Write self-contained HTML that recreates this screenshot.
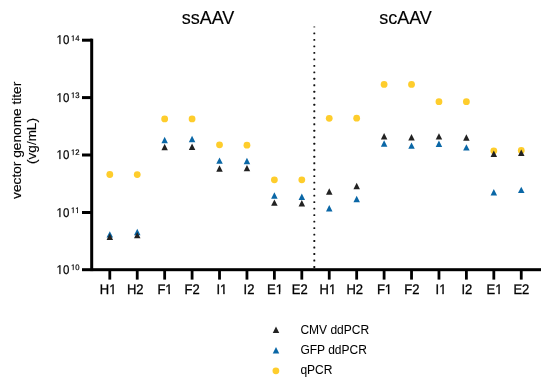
<!DOCTYPE html>
<html><head><meta charset="utf-8"><style>
html,body{margin:0;padding:0;background:#fff;width:550px;height:383px;overflow:hidden}
svg{position:absolute;left:0;top:0;display:block;will-change:transform}
text{font-family:"Liberation Sans",sans-serif;fill:#000;stroke:#000;stroke-width:0.15px}
.gp{text-rendering:geometricPrecision}
</style></head><body>
<svg width="550" height="383" viewBox="0 0 550 383">

<rect x="90.2" y="38.7" width="3" height="232.4" fill="#000"/>
<rect x="82" y="268.2" width="459" height="3" fill="#000"/>
<rect x="82" y="38.70" width="10" height="3" fill="#000"/>
<rect x="82" y="96.10" width="10" height="3" fill="#000"/>
<rect x="82" y="153.50" width="10" height="3" fill="#000"/>
<rect x="82" y="211.00" width="10" height="3" fill="#000"/>
<rect x="108.40" y="270" width="2.8" height="9.6" fill="#000"/>
<rect x="135.83" y="270" width="2.8" height="9.6" fill="#000"/>
<rect x="163.26" y="270" width="2.8" height="9.6" fill="#000"/>
<rect x="190.69" y="270" width="2.8" height="9.6" fill="#000"/>
<rect x="218.12" y="270" width="2.8" height="9.6" fill="#000"/>
<rect x="245.55" y="270" width="2.8" height="9.6" fill="#000"/>
<rect x="272.98" y="270" width="2.8" height="9.6" fill="#000"/>
<rect x="300.41" y="270" width="2.8" height="9.6" fill="#000"/>
<rect x="327.84" y="270" width="2.8" height="9.6" fill="#000"/>
<rect x="355.27" y="270" width="2.8" height="9.6" fill="#000"/>
<rect x="382.70" y="270" width="2.8" height="9.6" fill="#000"/>
<rect x="410.13" y="270" width="2.8" height="9.6" fill="#000"/>
<rect x="437.56" y="270" width="2.8" height="9.6" fill="#000"/>
<rect x="464.99" y="270" width="2.8" height="9.6" fill="#000"/>
<rect x="492.42" y="270" width="2.8" height="9.6" fill="#000"/>
<rect x="519.85" y="270" width="2.8" height="9.6" fill="#000"/>
<g fill="#111"><rect x="313.35" y="25.95" width="1.9" height="1.9" rx="0.5" fill-opacity="0.5"/><rect x="313.35" y="32.44" width="1.9" height="1.9" rx="0.5"/><rect x="313.35" y="38.93" width="1.9" height="1.9" rx="0.5"/><rect x="313.35" y="45.42" width="1.9" height="1.9" rx="0.5"/><rect x="313.35" y="51.91" width="1.9" height="1.9" rx="0.5"/><rect x="313.35" y="58.40" width="1.9" height="1.9" rx="0.5"/><rect x="313.35" y="64.89" width="1.9" height="1.9" rx="0.5"/><rect x="313.35" y="71.38" width="1.9" height="1.9" rx="0.5"/><rect x="313.35" y="77.87" width="1.9" height="1.9" rx="0.5"/><rect x="313.35" y="84.36" width="1.9" height="1.9" rx="0.5"/><rect x="313.35" y="90.85" width="1.9" height="1.9" rx="0.5"/><rect x="313.35" y="97.34" width="1.9" height="1.9" rx="0.5"/><rect x="313.35" y="103.83" width="1.9" height="1.9" rx="0.5"/><rect x="313.35" y="110.32" width="1.9" height="1.9" rx="0.5"/><rect x="313.35" y="116.81" width="1.9" height="1.9" rx="0.5"/><rect x="313.35" y="123.30" width="1.9" height="1.9" rx="0.5"/><rect x="313.35" y="129.79" width="1.9" height="1.9" rx="0.5"/><rect x="313.35" y="136.28" width="1.9" height="1.9" rx="0.5"/><rect x="313.35" y="142.77" width="1.9" height="1.9" rx="0.5"/><rect x="313.35" y="149.26" width="1.9" height="1.9" rx="0.5"/><rect x="313.35" y="155.75" width="1.9" height="1.9" rx="0.5"/><rect x="313.35" y="162.24" width="1.9" height="1.9" rx="0.5"/><rect x="313.35" y="168.73" width="1.9" height="1.9" rx="0.5"/><rect x="313.35" y="175.22" width="1.9" height="1.9" rx="0.5"/><rect x="313.35" y="181.71" width="1.9" height="1.9" rx="0.5"/><rect x="313.35" y="188.20" width="1.9" height="1.9" rx="0.5"/><rect x="313.35" y="194.69" width="1.9" height="1.9" rx="0.5"/><rect x="313.35" y="201.18" width="1.9" height="1.9" rx="0.5"/><rect x="313.35" y="207.67" width="1.9" height="1.9" rx="0.5"/><rect x="313.35" y="214.16" width="1.9" height="1.9" rx="0.5"/><rect x="313.35" y="220.65" width="1.9" height="1.9" rx="0.5"/><rect x="313.35" y="227.14" width="1.9" height="1.9" rx="0.5"/><rect x="313.35" y="233.63" width="1.9" height="1.9" rx="0.5"/><rect x="313.35" y="240.12" width="1.9" height="1.9" rx="0.5"/><rect x="313.35" y="246.61" width="1.9" height="1.9" rx="0.5"/><rect x="313.35" y="253.10" width="1.9" height="1.9" rx="0.5"/><rect x="313.35" y="259.59" width="1.9" height="1.9" rx="0.5"/><rect x="313.35" y="266.08" width="1.9" height="1.9" rx="0.5"/></g>
<circle cx="109.80" cy="174.5" r="3.4" fill="#FECD2C"/>
<circle cx="137.23" cy="174.6" r="3.4" fill="#FECD2C"/>
<circle cx="164.66" cy="118.9" r="3.4" fill="#FECD2C"/>
<circle cx="192.09" cy="118.9" r="3.4" fill="#FECD2C"/>
<circle cx="219.52" cy="144.8" r="3.4" fill="#FECD2C"/>
<circle cx="246.95" cy="145.2" r="3.4" fill="#FECD2C"/>
<circle cx="274.38" cy="179.8" r="3.4" fill="#FECD2C"/>
<circle cx="301.81" cy="179.8" r="3.4" fill="#FECD2C"/>
<circle cx="329.24" cy="118.3" r="3.4" fill="#FECD2C"/>
<circle cx="356.67" cy="118.2" r="3.4" fill="#FECD2C"/>
<circle cx="384.10" cy="84.4" r="3.4" fill="#FECD2C"/>
<circle cx="411.53" cy="84.4" r="3.4" fill="#FECD2C"/>
<circle cx="438.96" cy="101.7" r="3.4" fill="#FECD2C"/>
<circle cx="466.39" cy="101.7" r="3.4" fill="#FECD2C"/>
<circle cx="493.82" cy="150.8" r="3.4" fill="#FECD2C"/>
<circle cx="521.25" cy="150.5" r="3.4" fill="#FECD2C"/>
<path d="M106.55 237.60L109.80 231.20L113.05 237.60Z" fill="#0A67A6"/>
<path d="M133.98 235.20L137.23 228.80L140.48 235.20Z" fill="#0A67A6"/>
<path d="M161.41 143.20L164.66 136.80L167.91 143.20Z" fill="#0A67A6"/>
<path d="M188.84 142.20L192.09 135.80L195.34 142.20Z" fill="#0A67A6"/>
<path d="M216.27 163.80L219.52 157.40L222.77 163.80Z" fill="#0A67A6"/>
<path d="M243.70 164.20L246.95 157.80L250.20 164.20Z" fill="#0A67A6"/>
<path d="M271.13 198.70L274.38 192.30L277.63 198.70Z" fill="#0A67A6"/>
<path d="M298.56 200.00L301.81 193.60L305.06 200.00Z" fill="#0A67A6"/>
<path d="M325.99 211.40L329.24 205.00L332.49 211.40Z" fill="#0A67A6"/>
<path d="M353.42 202.20L356.67 195.80L359.92 202.20Z" fill="#0A67A6"/>
<path d="M380.85 146.70L384.10 140.30L387.35 146.70Z" fill="#0A67A6"/>
<path d="M408.28 148.80L411.53 142.40L414.78 148.80Z" fill="#0A67A6"/>
<path d="M435.71 146.90L438.96 140.50L442.21 146.90Z" fill="#0A67A6"/>
<path d="M463.14 150.60L466.39 144.20L469.64 150.60Z" fill="#0A67A6"/>
<path d="M490.57 195.50L493.82 189.10L497.07 195.50Z" fill="#0A67A6"/>
<path d="M518.00 193.10L521.25 186.70L524.50 193.10Z" fill="#0A67A6"/>
<path d="M106.55 240.00L109.80 233.60L113.05 240.00Z" fill="#222222"/>
<path d="M133.98 238.30L137.23 231.90L140.48 238.30Z" fill="#222222"/>
<path d="M161.41 150.20L164.66 143.80L167.91 150.20Z" fill="#222222"/>
<path d="M188.84 150.00L192.09 143.60L195.34 150.00Z" fill="#222222"/>
<path d="M216.27 171.70L219.52 165.30L222.77 171.70Z" fill="#222222"/>
<path d="M243.70 171.30L246.95 164.90L250.20 171.30Z" fill="#222222"/>
<path d="M271.13 205.80L274.38 199.40L277.63 205.80Z" fill="#222222"/>
<path d="M298.56 206.50L301.81 200.10L305.06 206.50Z" fill="#222222"/>
<path d="M325.99 194.70L329.24 188.30L332.49 194.70Z" fill="#222222"/>
<path d="M353.42 189.20L356.67 182.80L359.92 189.20Z" fill="#222222"/>
<path d="M380.85 139.50L384.10 133.10L387.35 139.50Z" fill="#222222"/>
<path d="M408.28 140.50L411.53 134.10L414.78 140.50Z" fill="#222222"/>
<path d="M435.71 139.60L438.96 133.20L442.21 139.60Z" fill="#222222"/>
<path d="M463.14 140.70L466.39 134.30L469.64 140.70Z" fill="#222222"/>
<path d="M490.57 157.00L493.82 150.60L497.07 157.00Z" fill="#222222"/>
<path d="M518.00 156.00L521.25 149.60L524.50 156.00Z" fill="#222222"/>
<path d="M272.75 333.00L276.00 326.60L279.25 333.00Z" fill="#222222"/>
<path d="M272.75 353.50L276.00 347.10L279.25 353.50Z" fill="#0A67A6"/>
<circle cx="275.9" cy="370.8" r="3.4" fill="#FECD2C"/>
<text x="208" y="23.6" font-size="18" text-anchor="middle">ssAAV</text>
<text x="405.5" y="23.6" font-size="18" text-anchor="middle">scAAV</text>
<text class="gp" transform="translate(99.814,294.00) scale(1,1.07)" font-size="13" style="stroke-width:0.3px">H</text><text class="gp" transform="translate(109.202,294.00) scale(1,1.07)" font-size="13" style="stroke-width:0.3px">1</text>
<text class="gp" transform="translate(126.935,294.00) scale(1,1.07)" font-size="13" style="stroke-width:0.3px">H</text><text class="gp" transform="translate(136.323,294.00) scale(1,1.07)" font-size="13" style="stroke-width:0.3px">2</text>
<text class="gp" transform="translate(157.387,294.00) scale(1,1.07)" font-size="13" style="stroke-width:0.3px">F</text><text class="gp" transform="translate(165.328,294.00) scale(1,1.07)" font-size="13" style="stroke-width:0.3px">1</text>
<text class="gp" transform="translate(184.508,294.00) scale(1,1.07)" font-size="13" style="stroke-width:0.3px">F</text><text class="gp" transform="translate(192.449,294.00) scale(1,1.07)" font-size="13" style="stroke-width:0.3px">2</text>
<text class="gp" transform="translate(216.485,294.00) scale(1,1.07)" font-size="13" style="stroke-width:0.3px">I</text><text class="gp" transform="translate(220.097,294.00) scale(1,1.07)" font-size="13" style="stroke-width:0.3px">1</text>
<text class="gp" transform="translate(243.606,294.00) scale(1,1.07)" font-size="13" style="stroke-width:0.3px">I</text><text class="gp" transform="translate(247.218,294.00) scale(1,1.07)" font-size="13" style="stroke-width:0.3px">2</text>
<text class="gp" transform="translate(267.022,294.00) scale(1,1.07)" font-size="13" style="stroke-width:0.3px">E</text><text class="gp" transform="translate(275.693,294.00) scale(1,1.07)" font-size="13" style="stroke-width:0.3px">1</text>
<text class="gp" transform="translate(291.843,294.00) scale(1,1.07)" font-size="13" style="stroke-width:0.3px">E</text><text class="gp" transform="translate(300.514,294.00) scale(1,1.07)" font-size="13" style="stroke-width:0.3px">2</text>
<text class="gp" transform="translate(319.564,294.00) scale(1,1.07)" font-size="13" style="stroke-width:0.3px">H</text><text class="gp" transform="translate(328.952,294.00) scale(1,1.07)" font-size="13" style="stroke-width:0.3px">1</text>
<text class="gp" transform="translate(346.485,294.00) scale(1,1.07)" font-size="13" style="stroke-width:0.3px">H</text><text class="gp" transform="translate(355.873,294.00) scale(1,1.07)" font-size="13" style="stroke-width:0.3px">2</text>
<text class="gp" transform="translate(376.887,294.00) scale(1,1.07)" font-size="13" style="stroke-width:0.3px">F</text><text class="gp" transform="translate(384.828,294.00) scale(1,1.07)" font-size="13" style="stroke-width:0.3px">1</text>
<text class="gp" transform="translate(404.308,294.00) scale(1,1.07)" font-size="13" style="stroke-width:0.3px">F</text><text class="gp" transform="translate(412.249,294.00) scale(1,1.07)" font-size="13" style="stroke-width:0.3px">2</text>
<text class="gp" transform="translate(435.585,294.00) scale(1,1.07)" font-size="13" style="stroke-width:0.3px">I</text><text class="gp" transform="translate(439.197,294.00) scale(1,1.07)" font-size="13" style="stroke-width:0.3px">1</text>
<text class="gp" transform="translate(461.506,294.00) scale(1,1.07)" font-size="13" style="stroke-width:0.3px">I</text><text class="gp" transform="translate(465.118,294.00) scale(1,1.07)" font-size="13" style="stroke-width:0.3px">2</text>
<text class="gp" transform="translate(486.522,294.00) scale(1,1.07)" font-size="13" style="stroke-width:0.3px">E</text><text class="gp" transform="translate(495.193,294.00) scale(1,1.07)" font-size="13" style="stroke-width:0.3px">1</text>
<text class="gp" transform="translate(513.443,294.00) scale(1,1.07)" font-size="13" style="stroke-width:0.3px">E</text><text class="gp" transform="translate(522.114,294.00) scale(1,1.07)" font-size="13" style="stroke-width:0.3px">2</text>
<text class="gp" transform="translate(56.508,44.00) scale(1,1.1)" font-size="11.5" style="stroke-width:0.2px">1</text><text class="gp" transform="translate(62.904,44.00) scale(1,1.1)" font-size="11.5" style="stroke-width:0.2px">0</text>
<text class="gp" transform="translate(70.900,41.00) scale(1,1.03)" font-size="7.7" style="stroke-width:0.2px">1</text><text class="gp" transform="translate(75.182,41.00) scale(1,1.03)" font-size="7.7" style="stroke-width:0.2px">4</text>
<text class="gp" transform="translate(56.508,102.00) scale(1,1.1)" font-size="11.5" style="stroke-width:0.2px">1</text><text class="gp" transform="translate(62.904,102.00) scale(1,1.1)" font-size="11.5" style="stroke-width:0.2px">0</text>
<text class="gp" transform="translate(70.900,98.00) scale(1,1.03)" font-size="7.7" style="stroke-width:0.2px">1</text><text class="gp" transform="translate(75.182,98.00) scale(1,1.03)" font-size="7.7" style="stroke-width:0.2px">3</text>
<text class="gp" transform="translate(56.508,159.00) scale(1,1.1)" font-size="11.5" style="stroke-width:0.2px">1</text><text class="gp" transform="translate(62.904,159.00) scale(1,1.1)" font-size="11.5" style="stroke-width:0.2px">0</text>
<text class="gp" transform="translate(70.900,155.00) scale(1,1.03)" font-size="7.7" style="stroke-width:0.2px">1</text><text class="gp" transform="translate(75.182,155.00) scale(1,1.03)" font-size="7.7" style="stroke-width:0.2px">2</text>
<text class="gp" transform="translate(56.508,217.00) scale(1,1.1)" font-size="11.5" style="stroke-width:0.2px">1</text><text class="gp" transform="translate(62.904,217.00) scale(1,1.1)" font-size="11.5" style="stroke-width:0.2px">0</text>
<text class="gp" transform="translate(70.900,213.00) scale(1,1.03)" font-size="7.7" style="stroke-width:0.2px">1</text><text class="gp" transform="translate(75.182,213.00) scale(1,1.03)" font-size="7.7" style="stroke-width:0.2px">1</text>
<text class="gp" transform="translate(56.508,274.00) scale(1,1.1)" font-size="11.5" style="stroke-width:0.2px">1</text><text class="gp" transform="translate(62.904,274.00) scale(1,1.1)" font-size="11.5" style="stroke-width:0.2px">0</text>
<text class="gp" transform="translate(70.900,270.00) scale(1,1.03)" font-size="7.7" style="stroke-width:0.2px">1</text><text class="gp" transform="translate(75.182,270.00) scale(1,1.03)" font-size="7.7" style="stroke-width:0.2px">0</text>
<g transform="translate(20.9,140.3) rotate(-90)"><text x="0" y="0" font-size="13.7" text-anchor="middle">vector genome titer</text></g>
<g transform="translate(36.0,141.0) rotate(-90)"><text x="0" y="0" font-size="13.5" text-anchor="middle">(vg/mL)</text></g>
<text x="300.4" y="333.6" font-size="12" style="stroke-width:0.05px">CMV ddPCR</text>
<text x="300.4" y="354.0" font-size="12" style="stroke-width:0.05px">GFP ddPCR</text>
<text x="300.4" y="374.4" font-size="12" style="stroke-width:0.05px">qPCR</text>
<g fill="#fff"><rect x="109.00" y="292.00" width="7.00" height="3.15"/><rect x="166.00" y="292.00" width="7.00" height="3.15"/><rect x="220.00" y="292.00" width="7.00" height="3.15"/><rect x="276.00" y="292.00" width="7.00" height="3.15"/><rect x="329.00" y="292.00" width="7.00" height="3.15"/><rect x="385.00" y="292.00" width="7.00" height="3.15"/><rect x="439.00" y="292.00" width="7.00" height="3.15"/><rect x="495.00" y="292.00" width="7.00" height="3.15"/><rect x="57.00" y="42.00" width="6.00" height="3.10"/><rect x="71.00" y="40.00" width="4.00" height="2.10"/><rect x="57.00" y="100.00" width="6.00" height="3.10"/><rect x="71.00" y="97.00" width="4.00" height="2.10"/><rect x="57.00" y="157.00" width="6.00" height="3.10"/><rect x="71.00" y="154.00" width="4.00" height="2.10"/><rect x="57.00" y="215.00" width="6.00" height="3.10"/><rect x="71.00" y="212.00" width="4.00" height="2.10"/><rect x="75.00" y="212.00" width="5.00" height="2.10"/><rect x="57.00" y="272.00" width="6.00" height="3.10"/><rect x="71.00" y="269.00" width="4.00" height="2.10"/></g>
<g fill="#000"><rect x="112.321" y="292.00" width="1.449" height="2.150"/><rect x="168.447" y="292.00" width="1.449" height="2.150"/><rect x="223.216" y="292.00" width="1.449" height="2.150"/><rect x="278.812" y="292.00" width="1.449" height="2.150"/><rect x="332.071" y="292.00" width="1.449" height="2.150"/><rect x="387.947" y="292.00" width="1.449" height="2.150"/><rect x="442.316" y="292.00" width="1.449" height="2.150"/><rect x="498.312" y="292.00" width="1.449" height="2.150"/><rect x="59.300" y="42.00" width="1.216" height="2.100"/><rect x="72.736" y="40.00" width="0.881" height="1.100"/><rect x="59.300" y="100.00" width="1.216" height="2.100"/><rect x="72.736" y="97.00" width="0.881" height="1.100"/><rect x="59.300" y="157.00" width="1.216" height="2.100"/><rect x="72.736" y="154.00" width="0.881" height="1.100"/><rect x="59.300" y="215.00" width="1.216" height="2.100"/><rect x="72.736" y="212.00" width="0.881" height="1.100"/><rect x="77.019" y="212.00" width="0.881" height="1.100"/><rect x="59.300" y="272.00" width="1.216" height="2.100"/><rect x="72.736" y="269.00" width="0.881" height="1.100"/></g>
</svg>
</body></html>
